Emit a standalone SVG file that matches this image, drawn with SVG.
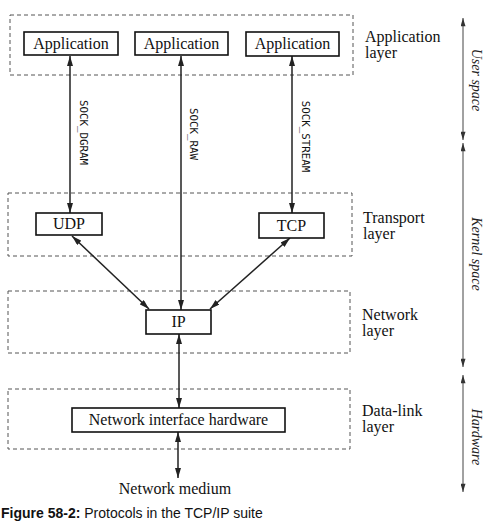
<svg xmlns="http://www.w3.org/2000/svg" width="488" height="531" viewBox="0 0 488 531">
<defs>
<marker id="ah" viewBox="0 0 10 6" refX="10" refY="3" markerWidth="10" markerHeight="6" markerUnits="userSpaceOnUse" orient="auto-start-reverse">
<path d="M0,0 L10,3 L0,6 z" fill="#222"/>
</marker>
<marker id="ahs" viewBox="0 0 10 6" refX="10" refY="3" markerWidth="9" markerHeight="5" markerUnits="userSpaceOnUse" orient="auto-start-reverse">
<path d="M0,0 L10,3 L0,6 z" fill="#333"/>
</marker>
</defs>
<style>
.layer{fill:none;stroke:#555;stroke-width:1;stroke-dasharray:4,3}
.box{fill:#fff;stroke:#111;stroke-width:1.6}
.t{font-family:"Liberation Serif",serif;font-size:16px;fill:#111}
.c{text-anchor:middle}
.sock{font-family:"DejaVu Sans Mono","Liberation Mono",monospace;font-size:10.8px;fill:#111;text-anchor:middle}
.sp{font-family:"Liberation Serif",serif;font-style:italic;font-size:14px;fill:#222;text-anchor:middle}
.con{stroke:#222;stroke-width:1.5;fill:none;marker-start:url(#ah);marker-end:url(#ah)}
.side{stroke:#444;stroke-width:1;fill:none;marker-start:url(#ahs);marker-end:url(#ahs)}
.cap{font-family:"Liberation Sans",sans-serif;font-size:14px;fill:#111}
</style>
<rect width="488" height="531" fill="#fff"/>

<g id="layers">
<rect class="layer" x="10" y="15" width="343" height="60"/>
<rect class="layer" x="8" y="193" width="344" height="63"/>
<rect class="layer" x="8" y="291" width="342" height="62"/>
<rect class="layer" x="8" y="389" width="342" height="60"/>
</g>

<g id="connectors">
<line class="con" x1="70" y1="56" x2="70" y2="213"/>
<line class="con" x1="181" y1="56" x2="181" y2="310"/>
<line class="con" x1="292" y1="56" x2="292" y2="213"/>
<line class="con" x1="72" y1="236" x2="149" y2="309"/>
<line class="con" x1="290" y1="238" x2="210" y2="309"/>
<line class="con" x1="179" y1="334" x2="179" y2="408"/>
<line class="con" x1="178" y1="432" x2="178" y2="478"/>
<line class="side" x1="463" y1="18" x2="463" y2="140"/>
<line class="side" x1="463" y1="143" x2="463" y2="367"/>
<line class="side" x1="463" y1="375" x2="463" y2="492"/>
</g>

<g id="app1"><rect class="box" x="24" y="32" width="94" height="23"/><text class="t c" x="71" y="48.5">Application</text></g>
<g id="app2"><rect class="box" x="135" y="32" width="93" height="23"/><text class="t c" x="181.5" y="48.5">Application</text></g>
<g id="app3"><rect class="box" x="246" y="32" width="93" height="24"/><text class="t c" x="292.5" y="49">Application</text></g>
<g id="udp"><rect class="box" x="36" y="213" width="66" height="22"/><text class="t c" x="69" y="228.5">UDP</text></g>
<g id="tcp"><rect class="box" x="259" y="213" width="65" height="25"/><text class="t c" x="291.5" y="230.5">TCP</text></g>
<g id="ip"><rect class="box" x="146" y="310" width="65" height="24"/><text class="t c" x="178.5" y="327">IP</text></g>
<g id="nih"><rect class="box" x="72" y="408" width="213" height="24"/><text class="t c" x="178.5" y="424.5">Network interface hardware</text></g>
<g id="medium"><text class="t c" x="175" y="494">Network medium</text></g>

<g id="sock-labels">
<text class="sock" transform="translate(80,132.5) rotate(90)">SOCK_DGRAM</text>
<text class="sock" transform="translate(190,134) rotate(90)">SOCK_RAW</text>
<text class="sock" transform="translate(302,136.5) rotate(90)">SOCK_STREAM</text>
</g>

<g id="layer-labels">
<text class="t" x="365" y="42">Application</text>
<text class="t" x="365" y="58">layer</text>
<text class="t" x="363" y="222.5">Transport</text>
<text class="t" x="363" y="238.5">layer</text>
<text class="t" x="362" y="320">Network</text>
<text class="t" x="362" y="336">layer</text>
<text class="t" x="362" y="415.5">Data-link</text>
<text class="t" x="362" y="432">layer</text>
</g>

<g id="space-labels">
<text class="sp" transform="translate(472,80) rotate(90)">User space</text>
<text class="sp" transform="translate(472,254) rotate(90)">Kernel space</text>
<text class="sp" transform="translate(472,437) rotate(90)">Hardware</text>
</g>

<g id="caption">
<text class="cap" x="1" y="518"><tspan font-weight="bold">Figure 58-2:</tspan> Protocols in the TCP/IP suite</text>
</g>
</svg>
